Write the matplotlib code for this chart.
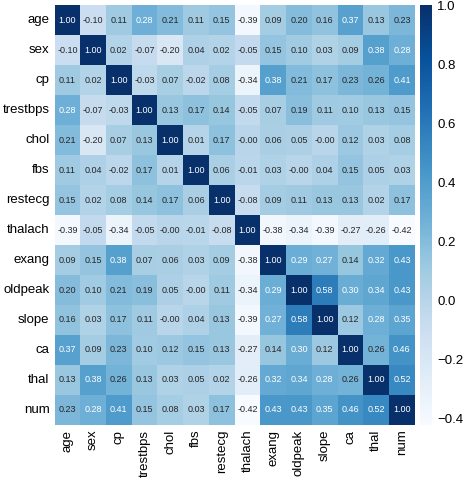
import matplotlib
matplotlib.use("Agg")
import matplotlib.pyplot as plt
import numpy as np
import seaborn as sns

plt.rcParams['font.family'] = ['Liberation Sans', 'DejaVu Sans']

labels = ["age", "sex", "cp", "trestbps", "chol", "fbs", "restecg",
          "thalach", "exang", "oldpeak", "slope", "ca", "thal", "num"]

# upper triangle of the correlation matrix, row by row (from diagonal on)
upper = [
    [1.00, -0.10, 0.11, 0.28, 0.21, 0.11, 0.15, -0.39, 0.09, 0.20, 0.16, 0.37, 0.13, 0.23],
    [1.00, 0.02, -0.07, -0.20, 0.04, 0.02, -0.05, 0.15, 0.10, 0.03, 0.09, 0.38, 0.28],
    [1.00, -0.03, 0.07, -0.02, 0.08, -0.34, 0.38, 0.21, 0.17, 0.23, 0.26, 0.41],
    [1.00, 0.13, 0.17, 0.14, -0.05, 0.07, 0.19, 0.11, 0.10, 0.13, 0.15],
    [1.00, 0.01, 0.17, -0.00, 0.06, 0.05, -0.00, 0.12, 0.03, 0.08],
    [1.00, 0.06, -0.01, 0.03, -0.00, 0.04, 0.15, 0.05, 0.03],
    [1.00, -0.08, 0.09, 0.11, 0.13, 0.13, 0.02, 0.17],
    [1.00, -0.38, -0.34, -0.39, -0.27, -0.26, -0.42],
    [1.00, 0.29, 0.27, 0.14, 0.32, 0.43],
    [1.00, 0.58, 0.30, 0.34, 0.43],
    [1.00, 0.12, 0.28, 0.35],
    [1.00, 0.26, 0.46],
    [1.00, 0.52],
    [1.00],
]

n = len(labels)
corr = np.zeros((n, n))
for i, row in enumerate(upper):
    for k, v in enumerate(row):
        corr[i, i + k] = v
        corr[i + k, i] = v

fig = plt.figure(figsize=(4.74, 4.79), dpi=100)
ax = fig.add_axes([0.115, 0.113, 0.76, 0.876])
cax = fig.add_axes([0.886, 0.113, 0.026, 0.876])
sns.heatmap(corr, annot=True, fmt=".2f", cmap="Blues", ax=ax, cbar_ax=cax,
            xticklabels=labels, yticklabels=labels,
            annot_kws={"size": 6.5})
ax.tick_params(axis="x", labelsize=9.5, rotation=90, length=0)
ax.tick_params(axis="y", labelsize=9.5, rotation=0, length=0)
cax.tick_params(labelsize=9.5, length=0)
cax.set_yticks([-0.4, -0.2, 0.0, 0.2, 0.4, 0.6, 0.8, 1.0])
fig.savefig("out.png", dpi=100)
